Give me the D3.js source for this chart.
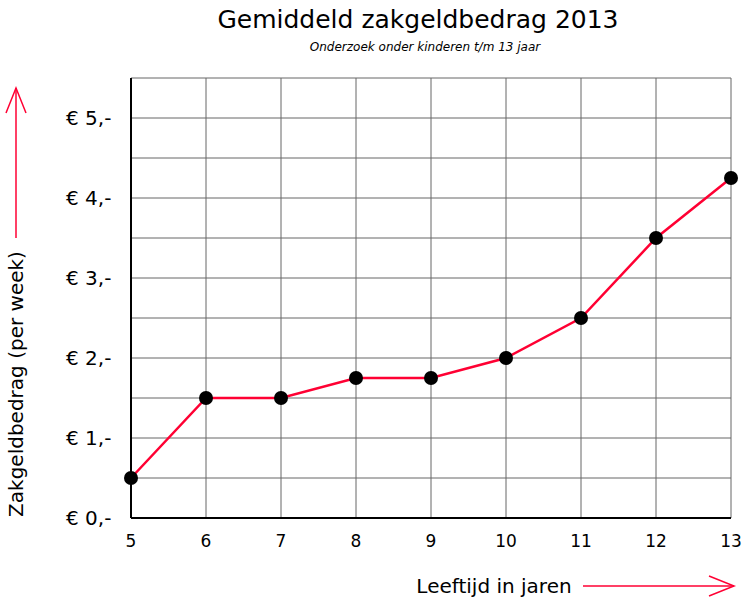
<!DOCTYPE html>
<html><head><meta charset="utf-8">
<script src="https://cdn.jsdelivr.net/npm/d3@7"></script>
<style>body{margin:0;background:#fff}text{font-family:"DejaVu Sans",Verdana,sans-serif}</style>
</head><body>
<svg id="chart" width="745" height="600"></svg>
<script>
// data
var ages = [5, 6, 7, 8, 9, 10, 11, 12, 13];
var amounts = [0.5, 1.5, 1.5, 1.75, 1.75, 2.0, 2.5, 3.5, 4.25];
var yTickLabels = ["€ 0,-", "€ 1,-", "€ 2,-", "€ 3,-", "€ 4,-", "€ 5,-"];

var svg = d3.select("#chart");
var x = d3.scaleLinear().domain([5, 13]).range([131, 731]);
var y = d3.scaleLinear().domain([0, 5.5]).range([518, 78]);

// grid
svg.selectAll(".vg").data(ages).enter().append("line")
  .attr("x1", d => x(d)).attr("x2", d => x(d))
  .attr("y1", y(0)).attr("y2", y(5.5))
  .attr("stroke", "#666").attr("stroke-width", 1);
svg.selectAll(".hg").data(d3.range(0, 5.51, 0.5)).enter().append("line")
  .attr("x1", x(5)).attr("x2", x(13))
  .attr("y1", d => y(d)).attr("y2", d => y(d))
  .attr("stroke", "#666").attr("stroke-width", 1);

// axes lines
svg.append("line").attr("x1", x(5)).attr("x2", x(5)).attr("y1", y(0)).attr("y2", y(5.5)).attr("stroke", "#000").attr("stroke-width", 2);
svg.append("line").attr("x1", x(5)).attr("x2", x(13)).attr("y1", y(0)).attr("y2", y(0)).attr("stroke", "#000").attr("stroke-width", 2);

// tick labels
svg.selectAll(".yl").data(yTickLabels).enter().append("text")
  .attr("x", 66).attr("y", (d, i) => y(i) + 7)
  .attr("font-size", 20).text(d => d);
svg.selectAll(".xl").data(ages).enter().append("text")
  .attr("x", d => x(d)).attr("y", 547).attr("text-anchor", "middle")
  .attr("font-size", 17).text(d => d);

// line + points
svg.append("path").datum(ages.map((a, i) => [a, amounts[i]]))
  .attr("d", d3.line().x(d => x(d[0])).y(d => y(d[1])))
  .attr("fill", "none").attr("stroke", "#ff0033").attr("stroke-width", 2.5);
svg.selectAll(".pt").data(ages).enter().append("circle")
  .attr("cx", d => x(d)).attr("cy", (d, i) => y(amounts[i])).attr("r", 7).attr("fill", "#000");

// titles
svg.append("text").attr("x", 418).attr("y", 28).attr("text-anchor", "middle").attr("font-size", 25).text("Gemiddeld zakgeldbedrag 2013");
svg.append("text").attr("x", 425).attr("y", 51).attr("text-anchor", "middle").attr("font-size", 12).attr("font-style", "italic").text("Onderzoek onder kinderen t/m 13 jaar");

// axis titles with arrows
svg.append("text").attr("transform", "translate(23,384) rotate(-90)").attr("text-anchor", "middle").attr("font-size", 20).text("Zakgeldbedrag (per week)");
svg.append("line").attr("x1", 16).attr("x2", 16).attr("y1", 238).attr("y2", 88).attr("stroke", "#ff0033").attr("stroke-width", 1.5);
svg.append("path").attr("d", "M6,113 L16,88 L26,113").attr("fill", "none").attr("stroke", "#ff0033").attr("stroke-width", 1.5);

svg.append("text").attr("x", 494).attr("y", 593).attr("text-anchor", "middle").attr("font-size", 20).text("Leeftijd in jaren");
svg.append("line").attr("x1", 583).attr("x2", 734).attr("y1", 586).attr("y2", 586).attr("stroke", "#ff0033").attr("stroke-width", 1.5);
svg.append("path").attr("d", "M709,576 L734,586 L709,596").attr("fill", "none").attr("stroke", "#ff0033").attr("stroke-width", 1.5);
</script>
</body></html>
